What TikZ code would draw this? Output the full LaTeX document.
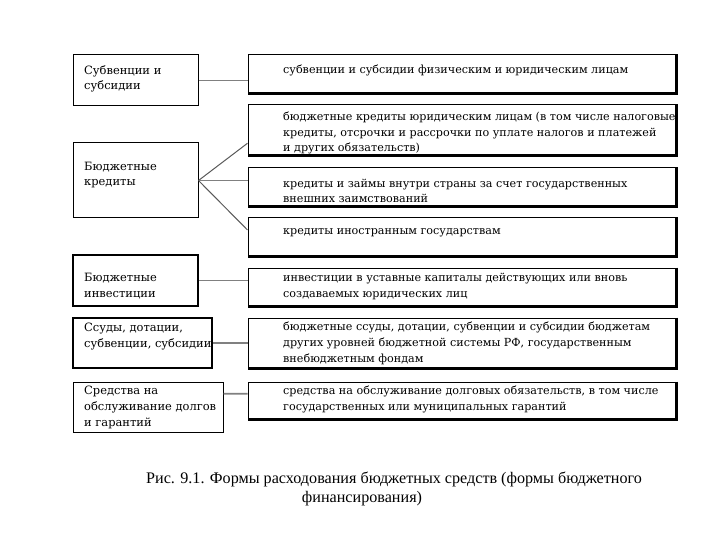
\documentclass[tikz,border=0pt]{standalone}
\usepackage{fontspec}
\setmainfont{DejaVu Serif}
\newfontfamily\capfont{Liberation Serif}
\usetikzlibrary{fit,calc}
\begin{document}
\begin{tikzpicture}[x=1bp,y=-1bp,
  box/.style={draw=black, line width=1bp, inner sep=0pt, fit={#1}},
  rbox/.style={box={#1}},
  txt/.style={inner sep=0pt, align=left, anchor=base west, font=\fontsize{11.5}{16}\selectfont},
  rtxt/.style={txt, font=\fontsize{11.2}{16}\selectfont},
  captxt/.style={inner sep=0pt, anchor=base, font=\capfont\fontsize{16.2}{19}\selectfont},
  conn/.style={draw=black!50, line width=1.8bp},
  fan/.style={draw=black!65, line width=1bp}]
\useasboundingbox[fill=white] (0,0) rectangle (720,540);
% left boxes
\node[box={(73,55)(198,106)}] (L1) {};
\node[box={(73,143)(198,218)}] (L2) {};
\node[box={(73,255)(198,306)}, line width=1.5bp] (L3) {};
\node[box={(73,318)(212,368)}, line width=2bp] (L4) {};
\node[box={(73,382)(223,432)}] (L5) {};
% right boxes
\node[rbox={(248,55)(676,93)}] (R1) {};
\node[rbox={(248,105)(676,155)}] (R2) {};
\node[rbox={(248,168)(676,206)}] (R3) {};
\node[rbox={(248,218)(676,256)}] (R4) {};
\node[rbox={(248,268)(676,306)}] (R5) {};
\node[rbox={(248,318)(676,368)}] (R6) {};
\node[rbox={(248,382)(676,419)}] (R7) {};
\foreach \n in {R1,R2,R3,R4,R5,R6,R7}
  \draw[line width=2.4bp] (\n.north east) -- (\n.south east) -- (\n.south west);
% left texts (anchored at the baseline of the last line)
\node[txt] (tL1) at (84,90) {Субвенции и\\субсидии};
\node[txt] (tL2) at (84,186) {Бюджетные\\кредиты};
\node[txt] (tL3) at (84,297) {Бюджетные\\инвестиции};
\node[txt] (tL4) at (84,347) {Ссуды, дотации,\\субвенции, субсидии};
\node[txt] (tL5) at (84,426) {Средства на\\обслуживание долгов\\и гарантий};
% right texts
\node[rtxt] (tR1) at (283,74) {субвенции и субсидии физическим и юридическим лицам};
\node[rtxt] (tR2) at (283,152) {бюджетные кредиты юридическим лицам (в том числе налоговые\\кредиты, отсрочки и рассрочки по уплате налогов и платежей\\и других обязательств)};
\node[rtxt] (tR3) at (283,203) {кредиты и займы внутри страны за счет государственных\\внешних заимствований};
\node[rtxt] (tR4) at (283,235) {кредиты иностранным государствам};
\node[rtxt] (tR5) at (283,297) {инвестиции в уставные капиталы действующих или вновь\\создаваемых юридических лиц};
\node[rtxt] (tR6) at (283,362) {бюджетные ссуды, дотации, субвенции и субсидии бюджетам\\других уровней бюджетной системы РФ, государственным\\внебюджетным фондам};
\node[rtxt] (tR7) at (283,410) {средства на обслуживание долговых обязательств, в том числе\\государственных или муниципальных гарантий};
% connectors
\draw[conn] (L1.east) -- (L1.east -| R1.west);
\draw[fan] (L2.east) -- ($(R2.north west)!0.76!(R2.south west)$);
\draw[conn, line width=1.2bp] (L2.east) -- (L2.east -| R3.west);
\draw[fan] (L2.east) -- ($(R4.north west)!0.32!(R4.south west)$);
\draw[conn] (L3.east) -- (L3.east -| R5.west);
\draw[conn, line width=1.3bp] (L4.east) -- (L4.east -| R6.west);
\draw[conn] ($(L5.north east)!0.24!(L5.south east)$) -- ($(R7.north west)!0.32!(R7.south west)$);
% caption
\node[captxt, anchor=base west] (cap1) at (146,483) {Рис. 9.1. Формы расходования бюджетных средств (формы бюджетного};
\node[captxt] (cap2) at (362,502) {финансирования)};
\end{tikzpicture}
\end{document}
